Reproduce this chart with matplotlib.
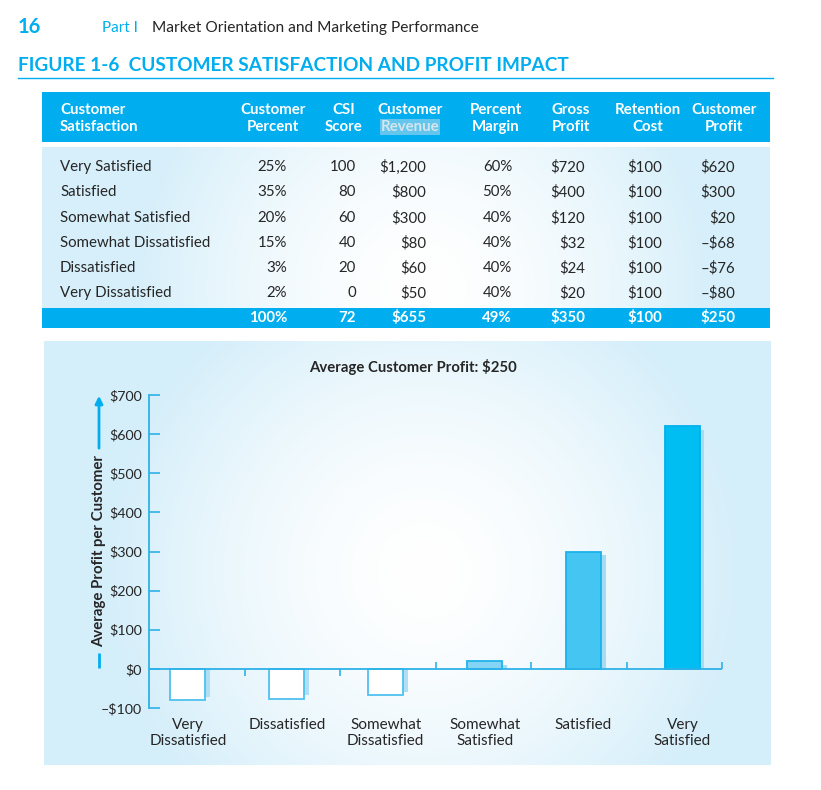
import numpy as np
import matplotlib
matplotlib.use("Agg")
import matplotlib.pyplot as plt
from matplotlib import font_manager as fm
from matplotlib.patches import Rectangle

# ---- data ----
segments = ["Very Satisfied", "Satisfied", "Somewhat Satisfied",
            "Somewhat Dissatisfied", "Dissatisfied", "Very Dissatisfied"]
cust_pct = [25, 35, 20, 15, 3, 2]
csi_score = [100, 80, 60, 40, 20, 0]
revenue = [1200, 800, 300, 80, 60, 50]
margin = [60, 50, 40, 40, 40, 40]
gross_profit = [720, 400, 120, 32, 24, 20]
retention_cost = [100, 100, 100, 100, 100, 100]
cust_profit = [620, 300, 20, -68, -76, -80]
totals = {"pct": 100, "csi": 72, "rev": 655, "margin": 49,
          "gross": 350, "ret": 100, "profit": 250}

chart_labels = ["Very\nDissatisfied", "Dissatisfied", "Somewhat\nDissatisfied",
                "Somewhat\nSatisfied", "Satisfied", "Very\nSatisfied"]
chart_profit = cust_profit[::-1]
yticks = [-100, 0, 100, 200, 300, 400, 500, 600, 700]

BLUE = "#00AEEF"
AXIS = "#2DB2E8"
DARK = "#262626"


def have_font(name):
    try:
        fm.findfont(fm.FontProperties(family=name), fallback_to_default=False)
        return True
    except Exception:
        return False


BODY = "Lato" if have_font("Lato") else "DejaVu Sans"
NARROW = "Liberation Sans Narrow" if have_font("Liberation Sans Narrow") else BODY
plt.rcParams["font.family"] = [BODY, "DejaVu Sans"]


def money(v):
    s = "${:,}".format(abs(v))
    return "\u2013" + s if v < 0 else s


def radial(w, h, cx, cy, r, outer, p=1.6):
    yy, xx = np.mgrid[0:h, 0:w]
    t = np.clip(np.hypot(xx - cx, yy - cy) / r, 0, 1) ** p
    inner = np.array([1.0, 1.0, 1.0])
    outer = np.array(matplotlib.colors.to_rgb(outer))
    return inner * (1 - t[..., None]) + outer * t[..., None]


fig = plt.figure(figsize=(8.21, 7.9), dpi=100)
bg = fig.add_axes([0, 0, 1, 1])
bg.set_xlim(0, 821)
bg.set_ylim(790, 0)
bg.axis("off")

# page header
bg.text(18, 27, "16", color=BLUE, fontsize=14.5, fontweight="bold", va="center")
bg.text(102, 28, "Part I", color=BLUE, fontsize=11, va="center")
bg.text(152, 28, "Market Orientation and Marketing Performance", color=DARK,
        fontsize=11.2, va="center")
title_size = 14 if NARROW != BODY else 13.7
bg.text(18, 65.5, "FIGURE 1-6  CUSTOMER SATISFACTION AND PROFIT IMPACT", color=BLUE,
        fontsize=title_size, fontweight="bold", va="center", family=NARROW)
bg.plot([18, 773], [78, 78], color=BLUE, lw=1)

# table
tx0, tx1 = 42, 770
bg.add_patch(Rectangle((tx0, 92), tx1 - tx0, 50, color=BLUE, lw=0))
bg.imshow(radial(tx1 - tx0, 161, 380, 140, 290, "#D6EFFA"),
          extent=[tx0, tx1, 308, 147], aspect="auto", zorder=0)
bg.add_patch(Rectangle((tx0, 308), tx1 - tx0, 20, color=BLUE, lw=0))

FS = 10.8
hdr = dict(color="white", fontsize=FS, fontweight="bold", va="center")
bg.text(60, 118.5, "Customer\nSatisfaction", ha="left", linespacing=1.35, **hdr)
head_cols = [(273, "Customer\nPercent"), (344, "CSI\nScore"), (496, "Percent\nMargin"),
             (571, "Gross\nProfit"), (648, "Retention\nCost"), (724, "Customer\nProfit")]
for cx, lab in head_cols:
    bg.text(cx, 118.5, lab, ha="center", linespacing=1.35, **hdr)
bg.text(410, 109.5, "Customer", ha="center", **hdr)
bg.text(410, 127, "Revenue", ha="center", va="center", fontsize=FS,
        fontweight="bold", color="#D5E5EC",
        bbox=dict(boxstyle="square,pad=0.06", fc="#64C6EC", ec="none"))

col_right = [287, 356, 426, 512, 585, 662, 735]
row_y = [167, 192, 218, 243, 268, 293]
for i, name in enumerate(segments):
    y = row_y[i]
    vals = ["{}%".format(cust_pct[i]), str(csi_score[i]), money(revenue[i]),
            "{}%".format(margin[i]), money(gross_profit[i]),
            money(retention_cost[i]), money(cust_profit[i])]
    bg.text(60, y, name, ha="left", va="center", fontsize=FS, color=DARK)
    for xr, v in zip(col_right, vals):
        bg.text(xr, y, v, ha="right", va="center", fontsize=FS, color=DARK)

tot = ["{}%".format(totals["pct"]), str(totals["csi"]), money(totals["rev"]),
       "{}%".format(totals["margin"]), money(totals["gross"]),
       money(totals["ret"]), money(totals["profit"])]
for xr, v in zip(col_right, tot):
    bg.text(xr, 318, v, ha="right", va="center", fontsize=FS,
            fontweight="bold", color="white")

# chart panel
bg.imshow(radial(771 - 44, 765 - 341, 380, 230, 320, "#D4EEFA"),
          extent=[44, 771, 765, 341], aspect="auto", zorder=0)
bg.text(413, 367, "Average Customer Profit: $250", ha="center", va="center",
        fontsize=10.7, fontweight="bold", color=DARK)
bg.text(99, 551, "Average Profit per Customer", rotation=90, ha="center",
        va="center", fontsize=10.8, fontweight="bold", color=DARK)
bg.annotate("", xy=(99, 393), xytext=(99, 451),
            arrowprops=dict(arrowstyle="-|>", color=BLUE, lw=2.0, mutation_scale=11))
bg.plot([99, 99], [653, 668], color=BLUE, lw=2.0, solid_capstyle="butt")

ax = fig.add_axes([149 / 821, 82 / 790, 573 / 821, 313 / 790])
ax.set_facecolor("none")
xlim = (-0.394, 5.40)
ax.set_xlim(*xlim)
ax.set_ylim(-100, 700)

x = np.arange(len(chart_profit))
vals = np.array(chart_profit)
fills = ["white", "white", "white", "#84D5F5", "#45C5F2", "#00BDF2"]
edges = ["#4EC2EE", "#4EC2EE", "#4EC2EE", "#22B3EA", "#1DB2EA", "#00B0EC"]
shadow = ["#B0DFF5", "#B0DFF5", "#B0DFF5", "#A6DBF4", "#A6DBF4", "#A6DBF4"]
w = 0.354
ax.bar(x + 0.045, vals - np.sign(vals) * 9, width=w, color=shadow, lw=0, zorder=2)
ax.bar(x, vals, width=w, color=fills, edgecolor=edges, linewidth=1.3, zorder=3)
ax.axhline(0, color=AXIS, lw=1.3, zorder=4)

bounds = np.linspace(xlim[0], xlim[1], 7)[1:]
ax.vlines(bounds[:2], -18, 0, color=AXIS, lw=1.2, zorder=4, clip_on=False)
ax.vlines(bounds[2:], 0, 18, color=AXIS, lw=1.2, zorder=4, clip_on=False)

for s in ["top", "right", "bottom"]:
    ax.spines[s].set_visible(False)
ax.spines["left"].set_color(AXIS)
ax.spines["left"].set_linewidth(1.3)
ax.set_yticks(yticks, [money(v) for v in yticks])
ax.tick_params(axis="y", direction="in", length=8, width=1.2, color=AXIS,
               labelsize=10.3, labelcolor=DARK, pad=5)
ax.set_xticks(x, chart_labels)
ax.tick_params(axis="x", length=0, labelsize=11, labelcolor=DARK, pad=7.5)
for t in ax.get_xticklabels():
    t.set_linespacing(1.15)

fig.savefig("out.png", dpi=100)
